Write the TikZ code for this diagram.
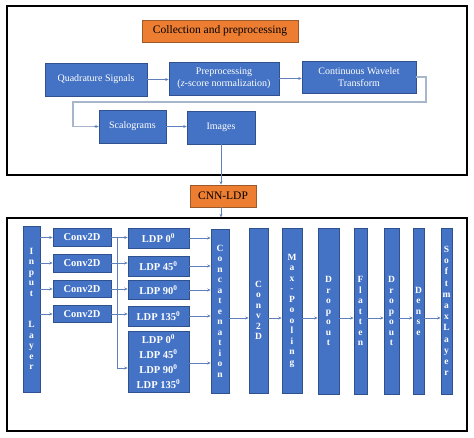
\documentclass[tikz,border=0pt]{standalone}
\usepackage{fontspec}
\setmainfont{Liberation Serif}
\usetikzlibrary{arrows.meta}
\definecolor{bfill}{HTML}{4472C4}
\definecolor{bdraw}{HTML}{2F528F}
\definecolor{ofill}{HTML}{ED7D31}
\definecolor{odraw}{HTML}{9C5A2A}
\definecolor{lin}{HTML}{5F80BB}
\definecolor{elb}{HTML}{A8B6CC}
\tikzset{
  blk/.style={draw=bdraw, fill=bfill, text=white, inner sep=0pt, line width=0.6pt, align=center,
    font=\fontsize{10}{11.5}\selectfont},
  blkb/.style={blk, font=\fontsize{10.5}{12}\selectfont\bfseries},
  vblk/.style={blk, font=\fontsize{9.5}{10.5}\selectfont\bfseries},
  obox/.style={draw=odraw, fill=ofill, text=black, inner sep=0pt, line width=0.6pt,
    font=\fontsize{11.5}{13}\selectfont},
  frm/.style={draw=black, line width=1.3pt, inner sep=0pt},
  arr/.style={draw=lin, line width=0.7pt, -{Stealth[length=3.5pt,width=3pt]}},
  ln/.style={draw=lin, line width=0.7pt},
  sz/.style 2 args={minimum width=#1pt, minimum height=#2pt},
}
\begin{document}
\begin{tikzpicture}[x=1pt,y=-1pt]
\useasboundingbox (0,0) rectangle (474,438);
% frames
\node[frm, sz={460}{169}] (F1) at (237,90.5) {};
\node[frm, sz={460}{213}] (F2) at (237,324.5) {};
% top part
\node[obox, sz={156}{22}] (title) at (220,31) {Collection and preprocessing};
\node[blk, sz={102}{33}] (qs) at (96,79.5) {Quadrature Signals};
\node[blk, sz={110}{33}] (pre) at (224,78.5) {Preprocessing\\(\textit{z}-score normalization)};
\node[blk, sz={114}{32}] (cwt) at (359,77) {Continuous Wavelet\\Transform};
\node[blk, sz={67}{33}] (sca) at (132.5,126.5) {Scalograms};
\node[blk, sz={68}{33}] (img) at (221,127.5) {Images};
\coordinate (e1) at (426,102);
\coordinate (e2) at (73,102);
\draw[arr] (qs.east) -- (qs.east -| pre.west);
\draw[arr] (pre.east) -- (pre.east -| cwt.west);
\draw[draw=elb, line width=1.4pt] (cwt.east) -| (e1) -- (e2) |- ([xshift=-3pt]sca.west);
\draw[arr] ([xshift=-5pt]sca.west) -- (sca.west);
\draw[arr] (sca.east) -- (sca.east -| img.west);
% CNN-LDP
\node[obox, sz={66}{22}] (cnn) at (223,196) {CNN-LDP};
\draw[arr] (img.south) -- (img.south |- cnn.north);
\draw[arr] (cnn.south -| img.south) -- (img.south |- F2.north);
% bottom part
\node[vblk, sz={17}{166}] (inp) at (31.5,309) {I\\n\\p\\u\\t\\~\\~\\L\\a\\y\\e\\r};
\node[blkb, sz={58}{18}] (c1) at (82,237.5) {Conv2D};
\node[blkb, sz={58}{18}] (c2) at (82,263) {Conv2D};
\node[blkb, sz={58}{17}] (c3) at (82,289) {Conv2D};
\node[blkb, sz={58}{17}] (c4) at (82,314) {Conv2D};
\node[blkb, sz={61}{20}] (l1) at (158.5,238) {LDP 0\textsuperscript{0}};
\node[blkb, sz={61}{20}] (l2) at (158.5,266) {LDP 45\textsuperscript{0}};
\node[blkb, sz={61}{19}] (l3) at (158.5,290) {LDP 90\textsuperscript{0}};
\node[blkb, sz={61}{20}] (l4) at (158.5,316) {LDP 135\textsuperscript{0}};
\node[blkb, sz={61}{61}, font=\fontsize{10.5}{15}\selectfont\bfseries] (l5) at (158.5,361.5)
  {LDP 0\textsuperscript{0}\\LDP 45\textsuperscript{0}\\LDP 90\textsuperscript{0}\\LDP 135\textsuperscript{0}};
\node[vblk, sz={18}{164}] (cat) at (220,311) {C\\o\\n\\c\\a\\t\\e\\n\\a\\t\\i\\o\\n};
\node[vblk, sz={19}{165}] (cv) at (258.5,310.5) {C\\o\\n\\v\\2\\D};
\node[vblk, sz={20}{165}] (mp) at (292,310.5) {M\\a\\x\\-\\P\\o\\o\\l\\i\\n\\g};
\node[vblk, sz={21}{166}] (d1) at (328.5,311) {D\\r\\o\\p\\o\\u\\t};
\node[vblk, sz={13}{166}] (fl) at (360.5,311) {F\\l\\a\\t\\t\\e\\n};
\node[vblk, sz={15}{166}] (d2) at (391.5,311) {D\\r\\o\\p\\o\\u\\t};
\node[vblk, sz={11}{166}] (de) at (418.5,311) {D\\e\\n\\s\\e};
\node[vblk, sz={11}{166}, font=\fontsize{9.5}{11.2}\selectfont\bfseries] (sm) at (446.5,311) {S\\o\\f\\t\\m\\a\\x\\L\\a\\y\\e\\r};
% input -> conv
\foreach \c in {c1,c2,c3,c4} \draw[arr] (inp.east |- \c) -- (\c.west);
% conv -> ldp
\coordinate (jn) at (117,237.5);
\coordinate (j5) at (117,368);
\draw[ln] (c1.east) -- (jn) -- (j5);
\draw[arr] (jn) -- (jn -| l1.west);
\draw[arr] (j5) -- (j5 -| l5.west);
\draw[arr] (c2.east) -- (c2.east -| l2.west);
\draw[arr] (c3.east) -- (c3.east -| l3.west);
\draw[arr] (c4.east) -- (c4.east -| l4.west);
% ldp -> concat
\foreach \l in {l1,l2,l3,l4} \draw[arr] (\l.east) -- (\l.east -| cat.west);
\coordinate (r5) at (189,363);
\draw[arr] (r5) -- (r5 -| cat.west);
% chain
\coordinate (ar) at (0,318);
\draw[arr] (cat.east |- ar) -- (cv.west |- ar);
\draw[arr] (cv.east |- ar) -- (mp.west |- ar);
\draw[arr] (mp.east |- ar) -- (d1.west |- ar);
\draw[arr] (d1.east |- ar) -- (fl.west |- ar);
\draw[arr] (fl.east |- ar) -- (d2.west |- ar);
\draw[arr] (d2.east |- ar) -- (de.west |- ar);
\draw[arr] (de.east |- ar) -- (sm.west |- ar);
\end{tikzpicture}
\end{document}
